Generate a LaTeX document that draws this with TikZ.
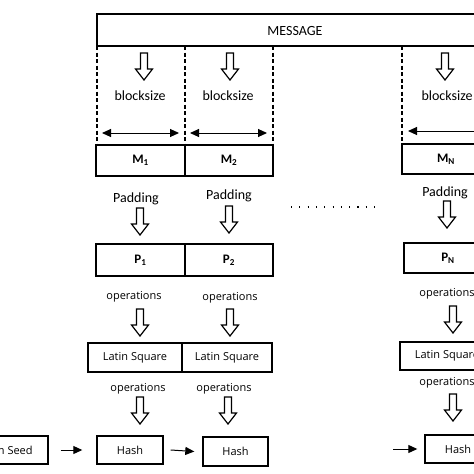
\documentclass[tikz,border=0pt]{standalone}
\usepackage{fontspec}
\setmainfont{Carlito}
\newfontfamily\lowfont{Open Sans}
\usetikzlibrary{arrows.meta}
\tikzset{
  box/.style={draw, line width=1.4pt, inner sep=0pt, fill=white},
  toptext/.style={font=\fontsize{14}{16}\selectfont, inner sep=0pt},
  boldtext/.style={font=\fontsize{13}{15}\selectfont\bfseries, inner sep=0pt},
  lowtext/.style={font=\lowfont\fontsize{11}{13}\selectfont, inner sep=0pt},
  divider/.style={line width=1.3pt, dash pattern=on 4pt off 2.5pt},
  widtharrow/.style={line width=1pt, {Triangle[length=9pt,width=8pt]}-{Triangle[length=9pt,width=8pt]}},
  leftarrow/.style={line width=1pt, {Triangle[length=9pt,width=8pt]}-},
  flowarrow/.style={line width=1pt, -{Triangle[length=9pt,width=8pt]}},
  hollow/.pic={\draw[line width=1.2pt, fill=white, line join=miter]
     (-3.5,0) -- (-3.5,16) -- (-8.5,16) -- (0,27) -- (8.5,16) -- (3.5,16) -- (3.5,0) -- cycle;}
}
\begin{document}
\begin{tikzpicture}[x=1pt,y=-1pt]
\useasboundingbox (0,0) rectangle (474,474);
\fill[white] (0,0) rectangle (474,474);
\clip (0,0) rectangle (474,474);

% message box
\node[box, minimum width=396pt, minimum height=32pt] (msg) at (295,30) {};
\node[toptext] (msgtext) at (295,31) {MESSAGE};

% dividers
\coordinate (d1t) at (97,46);  \coordinate (d1b) at (97,145);
\coordinate (d2t) at (185,46); \coordinate (d2b) at (185,145);
\coordinate (d3t) at (273,46); \coordinate (d3b) at (273,145);
\coordinate (d4t) at (402,46); \coordinate (d4b) at (402,144);
\draw[divider] (d1t) -- (d1b);
\draw[divider] (d2t) -- (d2b);
\draw[divider] (d3t) -- (d3b);
\draw[divider] (d4t) -- (d4b);

% hollow arrows row 1
\pic at (144,53) {hollow};
\pic at (230,53) {hollow};
\pic at (445,53) {hollow};

\node[toptext] (bs1) at (140,96) {blocksize};
\node[toptext] (bs2) at (228,96) {blocksize};
\node[toptext] (bs3) at (447,96) {blocksize};

% width arrows
\coordinate (w1a) at (102,133); \coordinate (w1b) at (179,133);
\coordinate (w2a) at (190,133); \coordinate (w2b) at (267,133);
\coordinate (w3a) at (408,131); \coordinate (w3b) at (480,131);
\draw[widtharrow] (w1a) -- (w1b);
\draw[widtharrow] (w2a) -- (w2b);
\draw[leftarrow] (w3a) -- (w3b);

% M boxes
\node[box, minimum width=89pt, minimum height=31pt] (m1) at (140.5,160.5) {};
\node[box, minimum width=88pt, minimum height=31pt] (m2) at (229,160.5) {};
\node[box, minimum width=88pt, minimum height=30pt] (mn) at (446,159) {};
\node[boldtext] at (m1) {M\textsubscript{1}};
\node[boldtext] at (m2) {M\textsubscript{2}};
\node[boldtext] at (mn) {M\textsubscript{N}};

% Padding
\node[toptext] (pad1) at (136,199) {Padding};
\node[toptext] (pad2) at (229,196) {Padding};
\node[toptext] (pad3) at (445,193) {Padding};
\pic at (140,208) {hollow};
\pic at (229,206) {hollow};
\pic at (447,201) {hollow};

% dots
\coordinate (dotsa) at (291,207); \coordinate (dotsb) at (382,207);
\draw[line width=1.1pt, dash pattern=on 1.1pt off 7.2pt] (dotsa) -- (dotsb);

% P boxes
\node[box, minimum width=89pt, minimum height=32pt] (p1) at (140.5,260) {};
\node[box, minimum width=88pt, minimum height=32pt] (p2) at (229,260) {};
\node[box, minimum width=88pt, minimum height=30pt] (pn) at (448,258) {};
\node[boldtext] at (p1) {P\textsubscript{1}};
\node[boldtext] at (p2) {P\textsubscript{2}};
\node[boldtext] at (pn) {P\textsubscript{N}};

% operations
\node[lowtext] (op1) at (134,297) {operations};
\node[lowtext] (op2) at (230,298) {operations};
\node[lowtext] (op3) at (447,294) {operations};
\pic at (140,309) {hollow};
\pic at (230,309) {hollow};
\pic at (453,306) {hollow};

% Latin squares
\node[box, minimum width=94pt, minimum height=29pt] (ls1) at (135,357.5) {};
\node[box, minimum width=90pt, minimum height=29pt] (ls2) at (227,357.5) {};
\node[box, minimum width=94pt, minimum height=28pt] (lsn) at (447,356) {};
\node[lowtext] at (ls1) {Latin Square};
\node[lowtext] at (ls2) {Latin Square};
\node[lowtext] at (lsn) {Latin Square};

\node[lowtext] (op4) at (138,389) {operations};
\node[lowtext] (op5) at (224,389) {operations};
\node[lowtext] (op6) at (447,383) {operations};
\pic at (140,397) {hollow};
\pic at (228,397) {hollow};
\pic at (453,394) {hollow};

% bottom row
\node[box, minimum width=86pt, minimum height=28pt] (seed) at (5,450) {};
\node[lowtext] (seedtext) at (-3,450) {Random Seed};
\node[box, minimum width=66pt, minimum height=28pt, lowtext] (h1) at (130,450) {Hash};
\node[box, minimum width=65pt, minimum height=29pt, lowtext] (h2) at (235.5,451.5) {Hash};
\node[box, minimum width=66pt, minimum height=28pt, lowtext] (hn) at (458,449) {Hash};
\coordinate (gapn) at (393,449);
\draw[flowarrow] ([xshift=12pt]seed.east) -- ([xshift=-14pt]h1.west);
\draw[flowarrow] ([xshift=7pt]h1.east |- h2.west) ++(0,-1.5) -- ([xshift=-8pt]h2.west);
\draw[flowarrow] (gapn) -- ([xshift=-7pt]hn.west);
\end{tikzpicture}
\end{document}
